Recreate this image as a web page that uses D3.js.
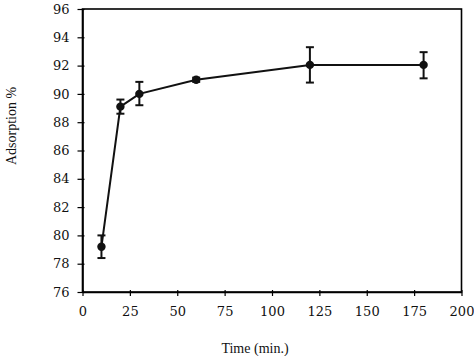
<!DOCTYPE html>
<html><head><meta charset="utf-8">
<script src="https://cdn.jsdelivr.net/npm/d3@7"></script>
<style>body{margin:0;background:#fff}svg{display:block}</style>
</head><body>
<svg id="c" width="474" height="356"></svg>
<script>
const times = [10, 20, 30, 60, 120, 180];
const adsorption = [79.2, 89.1, 90.0, 91.0, 92.05, 92.05];
const errLow = [78.4, 88.6, 89.2, 90.85, 90.8, 91.1];
const errHigh = [80.0, 89.6, 90.85, 91.15, 93.3, 92.95];
const xTicks = [0, 25, 50, 75, 100, 125, 150, 175, 200];
const yTicks = [76, 78, 80, 82, 84, 86, 88, 90, 92, 94, 96];

const svg = d3.select("#c");
const L = 82.5, R = 461.5, T = 9, B = 292;
const x = d3.scaleLinear().domain([0, 200]).range([L, R]);
const y = d3.scaleLinear().domain([76, 96]).range([B, T]);
const tickFont = "'DejaVu Serif', 'Liberation Serif', serif";
const font = "'Liberation Serif', 'Times New Roman', serif";

svg.append("rect").attr("x", L).attr("y", T).attr("width", R - L).attr("height", B - T)
  .attr("fill", "none").attr("stroke", "#000").attr("stroke-width", 1.6);

const xa = svg.append("g").attr("transform", `translate(0,${B})`)
  .call(d3.axisBottom(x).tickValues(xTicks).tickSize(5).tickSizeOuter(0).tickPadding(10).tickFormat(d3.format("d")));
const ya = svg.append("g").attr("transform", `translate(${L},0)`)
  .call(d3.axisLeft(y).tickValues(yTicks).tickSize(5).tickSizeOuter(0).tickPadding(8).tickFormat(d3.format("d")));
[xa, ya].forEach(a => {
  a.select(".domain").attr("stroke", "#000").attr("stroke-width", 1.6);
  a.selectAll(".tick line").attr("stroke", "#000").attr("stroke-width", 1.2);
  a.selectAll("text").attr("font-family", tickFont).attr("font-size", 13).attr("fill", "#111");
});
xa.selectAll(".tick line").attr("y1", -2).attr("y2", 4);
ya.selectAll(".tick line").attr("x1", 2).attr("x2", -5);

const data = times.map((t, i) => ({t, v: adsorption[i], lo: errLow[i], hi: errHigh[i]}));

svg.append("path").datum(data)
  .attr("fill", "none").attr("stroke", "#111").attr("stroke-width", 2)
  .attr("d", d3.line().x(d => x(d.t)).y(d => y(d.v)));

const eb = svg.append("g").attr("stroke", "#111").attr("stroke-width", 2);
data.forEach(d => {
  eb.append("line").attr("x1", x(d.t)).attr("x2", x(d.t)).attr("y1", y(d.lo)).attr("y2", y(d.hi));
  eb.append("line").attr("x1", x(d.t) - 4).attr("x2", x(d.t) + 4).attr("y1", y(d.lo)).attr("y2", y(d.lo));
  eb.append("line").attr("x1", x(d.t) - 4).attr("x2", x(d.t) + 4).attr("y1", y(d.hi)).attr("y2", y(d.hi));
});

svg.append("g").selectAll("circle").data(data).join("circle")
  .attr("cx", d => x(d.t)).attr("cy", d => y(d.v)).attr("r", 4.2).attr("fill", "#111");

svg.append("text").attr("x", 255).attr("y", 353).attr("text-anchor", "middle")
  .attr("font-family", font).attr("font-size", 14).attr("fill", "#111").text("Time (min.)");
svg.append("text").attr("transform", "translate(16,126) rotate(-90)").attr("text-anchor", "middle")
  .attr("font-family", font).attr("font-size", 14).attr("fill", "#111").text("Adsorption %");
</script>
</body></html>
